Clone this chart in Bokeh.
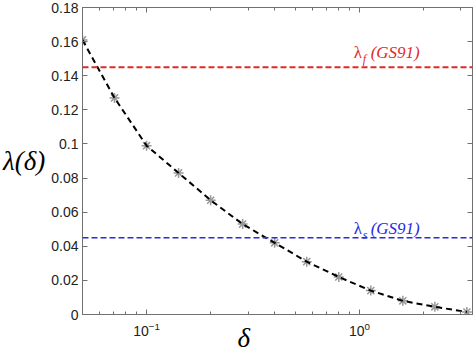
from bokeh.plotting import figure
from bokeh.models import FixedTicker, CustomJSTickFormatter, LinearAxis, LogAxis, Label, Span
from bokeh.embed import file_html
from bokeh.resources import INLINE

# ---- data ----
delta = [0.05, 0.0707, 0.1, 0.1414, 0.2, 0.2828, 0.4, 0.5657, 0.8, 1.1314, 1.6, 2.2627, 3.2]
lam = [0.161, 0.127, 0.099, 0.083, 0.067, 0.053, 0.042, 0.031, 0.022, 0.014, 0.008, 0.0045, 0.0015]
lambda_f_gs91 = 0.145
lambda_s_gs91 = 0.045
y_ticks = [0, 0.02, 0.04, 0.06, 0.08, 0.1, 0.12, 0.14, 0.16, 0.18]
x_ticks = [0.1, 1]
x_minor = [0.05, 0.06, 0.07, 0.08, 0.09, 0.2, 0.3, 0.4, 0.5, 0.6, 0.7, 0.8, 0.9, 2, 3]

AX = "#707070"
RED = "#e02a2a"
BLUE = "#2a2ae0"

p = figure(width=474, height=355, x_axis_type="log", x_range=(0.05, 3.4), y_range=(0, 0.18),
           output_backend="svg", toolbar_location=None,
           min_border_left=81, min_border_right=2, min_border_top=7, min_border_bottom=39)
p.xgrid.visible = False
p.ygrid.visible = False
p.outline_line_color = AX
p.outline_line_width = 1

yfmt = CustomJSTickFormatter(code="var s = tick.toFixed(2); s = s.replace(/0+$/, ''); s = s.replace(/\\.$/, ''); return s;")

def style_axis(ax, labels=True):
    ax.axis_line_color = AX
    ax.major_tick_line_color = AX
    ax.minor_tick_line_color = AX
    ax.major_tick_in = 5
    ax.major_tick_out = 0
    ax.minor_tick_in = 3
    ax.minor_tick_out = 0
    ax.major_label_text_font = "Liberation Sans"
    ax.major_label_text_font_size = "14px" if labels else "1px"
    ax.major_label_text_color = "#222222" if labels else None
    ax.major_label_standoff = 4 if labels else 0

p.yaxis.ticker = FixedTicker(ticks=y_ticks)
p.yaxis.formatter = yfmt
p.xaxis.ticker = FixedTicker(ticks=x_ticks, minor_ticks=x_minor)
for ax in p.yaxis + p.xaxis:
    style_axis(ax)
p.xaxis.major_label_standoff = 7

# axis titles
p.yaxis.axis_label = "λ(δ)"
p.yaxis.axis_label_orientation = "horizontal"
p.yaxis.axis_label_text_font = "Liberation Serif"
p.yaxis.axis_label_text_font_style = "italic"
p.yaxis.axis_label_text_font_size = "27px"
p.yaxis.axis_label_text_color = "black"
p.yaxis.axis_label_standoff = 3

p.xaxis.axis_label = "δ\u2003\u2003\u2002"
p.xaxis.axis_label_text_font = "Liberation Serif"
p.xaxis.axis_label_text_font_style = "italic"
p.xaxis.axis_label_text_font_size = "27px"
p.xaxis.axis_label_text_color = "black"
p.xaxis.axis_label_standoff = -16

ra = LinearAxis(ticker=FixedTicker(ticks=y_ticks))
style_axis(ra, labels=False)
p.add_layout(ra, "right")
ta = LogAxis(ticker=FixedTicker(ticks=x_ticks, minor_ticks=x_minor))
style_axis(ta, labels=False)
p.add_layout(ta, "above")

# horizontal reference lines
p.add_layout(Span(location=lambda_f_gs91, dimension="width", line_color=RED, line_width=2, line_dash="6 3"))
p.add_layout(Span(location=lambda_s_gs91, dimension="width", line_color=BLUE, line_width=1.5, line_dash="6 3"))

# data
p.scatter(delta, lam, marker="asterisk", size=10, line_color="#999999", line_width=1.5)
p.line(delta, lam, line_color="black", line_width=2, line_dash="6 4")

def gs_label(yv, sub, color, yoff):
    x0 = 0.94
    p.add_layout(Label(x=x0, y=yv, y_offset=yoff, text="λ", text_font="Liberation Serif",
                       text_font_size="17px", text_color=color, text_baseline="bottom"))
    p.add_layout(Label(x=x0, y=yv, x_offset=9, y_offset=yoff - 4, text=sub, text_font="Liberation Serif",
                       text_font_style="italic", text_font_size="12px", text_color=color, text_baseline="bottom"))
    p.add_layout(Label(x=x0, y=yv, x_offset=17, y_offset=yoff, text="(GS91)", text_font="Liberation Serif",
                       text_font_style="italic", text_font_size="17px", text_color=color, text_baseline="bottom"))

gs_label(lambda_f_gs91, "f", RED, 5)
gs_label(lambda_s_gs91, "s", BLUE, 0)

open("out.html", "w").write(file_html(p, INLINE))
